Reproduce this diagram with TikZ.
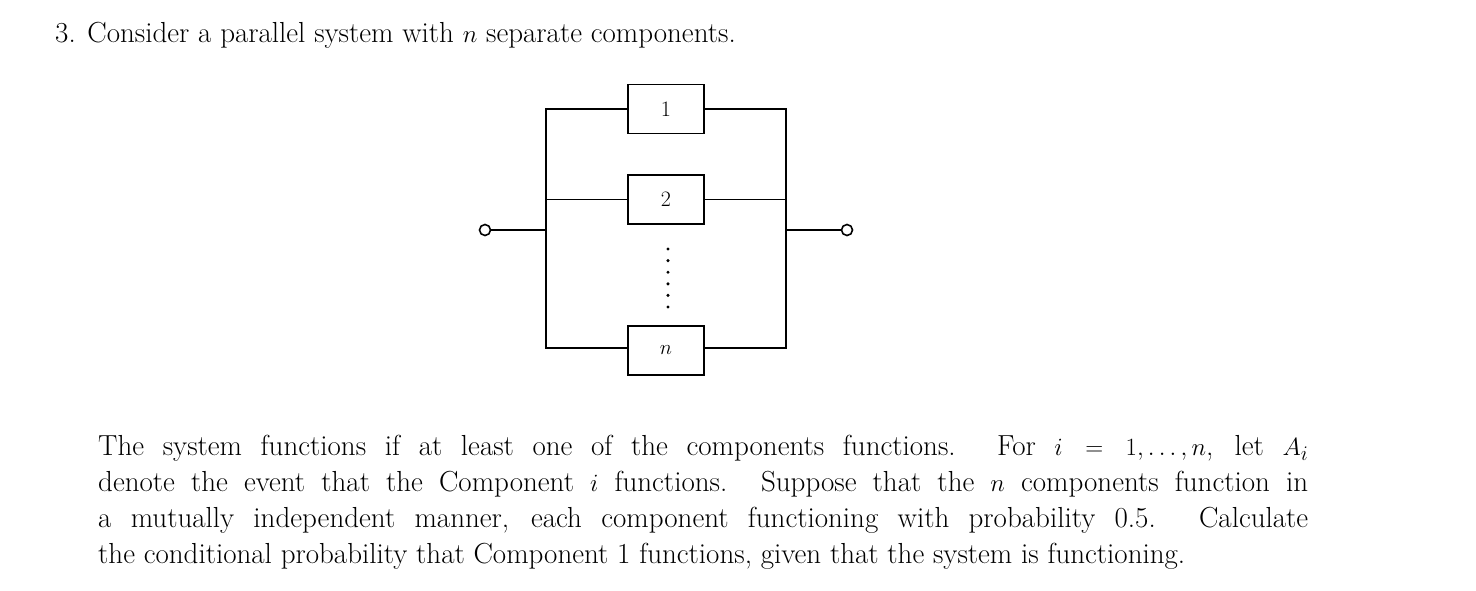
\documentclass[tikz,border=0pt]{standalone}
\begin{document}
\begin{tikzpicture}[x=1pt,y=-1pt,
  comp/.style={draw,line width=1.8pt,minimum width=76pt,minimum height=49pt,inner sep=0pt,font=\fontsize{22}{26}\selectfont},
  wire/.style={line width=1.6pt},
  term/.style={circle,draw,line width=1.6pt,minimum size=11pt,inner sep=0pt}]
\useasboundingbox (0,0) rectangle (1476,590);
\node[anchor=base west,inner sep=0pt,font=\fontsize{29}{36}\selectfont] (title) at (55,42) {3. Consider a parallel system with $n$ separate components.};
\node[comp] (c1) at (666,109) {1};
\node[comp] (c2) at (666,199.5) {2};
\node[comp] (cn) at (666,350.5) {$n$};
\node[term] (in) at (485,230) {};
\node[term] (out) at (847,230) {};
\coordinate (lt) at (546,109); \coordinate (lb) at (546,348);
\coordinate (rt) at (786,109); \coordinate (rb) at (786,348);
\coordinate (lm) at (546,230); \coordinate (rm) at (786,230);
\draw[wire] (c1.west) -- (lt) -- (lb) -- (cn.west |- lb);
\draw[wire] (c1.east) -- (rt) -- (rb) -- (cn.east |- rb);
\draw[wire] (c2.west) -- (c2.west -| lt);
\draw[wire] (c2.east) -- (c2.east -| rt);
\draw[wire] (in) -- (lm);
\draw[wire] (out) -- (rm);
\foreach \k in {0,...,5} \fill (668,249+\k*11.6) circle (1.7pt);
\node[anchor=base west,inner sep=0pt,text width=1210pt,align=justify,font=\fontsize{29}{36}\selectfont] (para) at (98,455) {The system functions if at least one of the components functions. For $i=1,\dots,n$, let $A_i$\linebreak denote the event that the Component $i$ functions. Suppose that the $n$ components function in\linebreak a mutually independent manner, each component functioning with probability 0.5. Calculate\linebreak the conditional probability that Component 1 functions, given that the system is functioning.};
\end{tikzpicture}
\end{document}
